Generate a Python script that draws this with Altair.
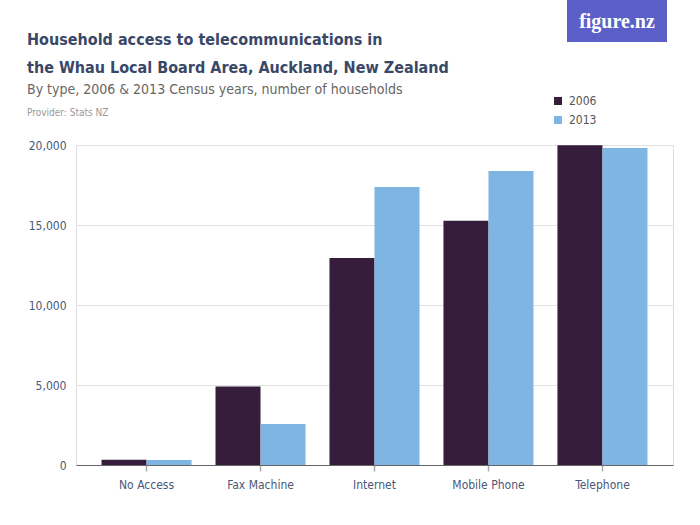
import altair as alt
import pandas as pd

categories = ["No Access", "Fax Machine", "Internet", "Mobile Phone", "Telephone"]
years = ["2006", "2013"]
values_2006 = [330, 4910, 12940, 15270, 19990]
values_2013 = [310, 2560, 17380, 18380, 19810]
y_ticks = [0, 5000, 10000, 15000, 20000]

title_lines = ["Household access to telecommunications in",
               "the Whau Local Board Area, Auckland, New Zealand"]
subtitle = "By type, 2006 & 2013 Census years, number of households"
provider = "Provider: Stats NZ"
logo_text = "figure.nz"

rows = []
for c, a, b in zip(categories, values_2006, values_2013):
    rows.append({"category": c, "year": "2006", "value": a})
    rows.append({"category": c, "year": "2013", "value": b})
df = pd.DataFrame(rows)

FONT = "DejaVu Sans Condensed"
TITLE_COLOR = "#3a4868"
AXIS_COLOR = "#4a5878"

bars = alt.Chart(df).mark_bar().encode(
    x=alt.X("category:N", sort=categories,
            scale=alt.Scale(paddingInner=0.21, paddingOuter=0.224),
            axis=alt.Axis(title=None, labelAngle=0, labelFontSize=12, labelColor=AXIS_COLOR,
                          labelFont=FONT, domainColor="#666666", domainWidth=1,
                          tickColor="#aaaaaa", tickSize=6, tickWidth=1.5, labelPadding=8, grid=False)),
    xOffset=alt.XOffset("year:N", sort=years, scale=alt.Scale(paddingInner=0, paddingOuter=0)),
    y=alt.Y("value:Q", scale=alt.Scale(domain=[0, 20000], nice=False),
            axis=alt.Axis(title=None, values=y_ticks, format=",.0f", labelFontSize=12,
                          labelColor=AXIS_COLOR, labelFont=FONT, domain=False, ticks=False,
                          labelPadding=10, gridColor="#e2e2e2", gridWidth=1)),
    color=alt.Color("year:N", sort=years,
                    scale=alt.Scale(domain=years, range=["#361d3c", "#7eb5e3"]),
                    legend=alt.Legend(title=None, orient="none", legendX=476, legendY=-50,
                                      symbolType="square", symbolSize=64, labelFontSize=12,
                                      labelColor="#555555", labelFont=FONT, rowPadding=7,
                                      symbolStrokeWidth=0, labelOffset=5)),
)

one = alt.Data(values=[{}])

def text_layer(txt, x, y, size, color, weight="normal", font=FONT, align="left"):
    return alt.Chart(one).mark_text(
        align=align, baseline="alphabetic", fontSize=size, color=color,
        fontWeight=weight, font=font
    ).encode(x=alt.value(x), y=alt.value(y), text=alt.value(txt))

logo = alt.Chart(one).mark_rect(color="#5b5fc7").encode(
    x=alt.value(491), x2=alt.value(591), y=alt.value(-145), y2=alt.value(-103))

layers = [
    bars,
    logo,
    text_layer(logo_text, 541, -117, 20, "white", "bold", "Liberation Serif", "center"),
    text_layer(title_lines[0], -49, -100, 16, TITLE_COLOR, "bold"),
    text_layer(title_lines[1], -49, -72, 16, TITLE_COLOR, "bold"),
    text_layer(subtitle, -49, -51, 14, "#666666"),
    text_layer(provider, -49, -29, 10, "#999999"),
]

chart = alt.layer(*layers).properties(
    width=597, height=320,
    autosize=alt.AutoSizeParams(type="none"),
    padding={"left": 76, "top": 145, "right": 27, "bottom": 60},
).configure_view(stroke=None).configure(background="white")

chart.save("out.html", embed_options={"renderer": "svg", "actions": False})
